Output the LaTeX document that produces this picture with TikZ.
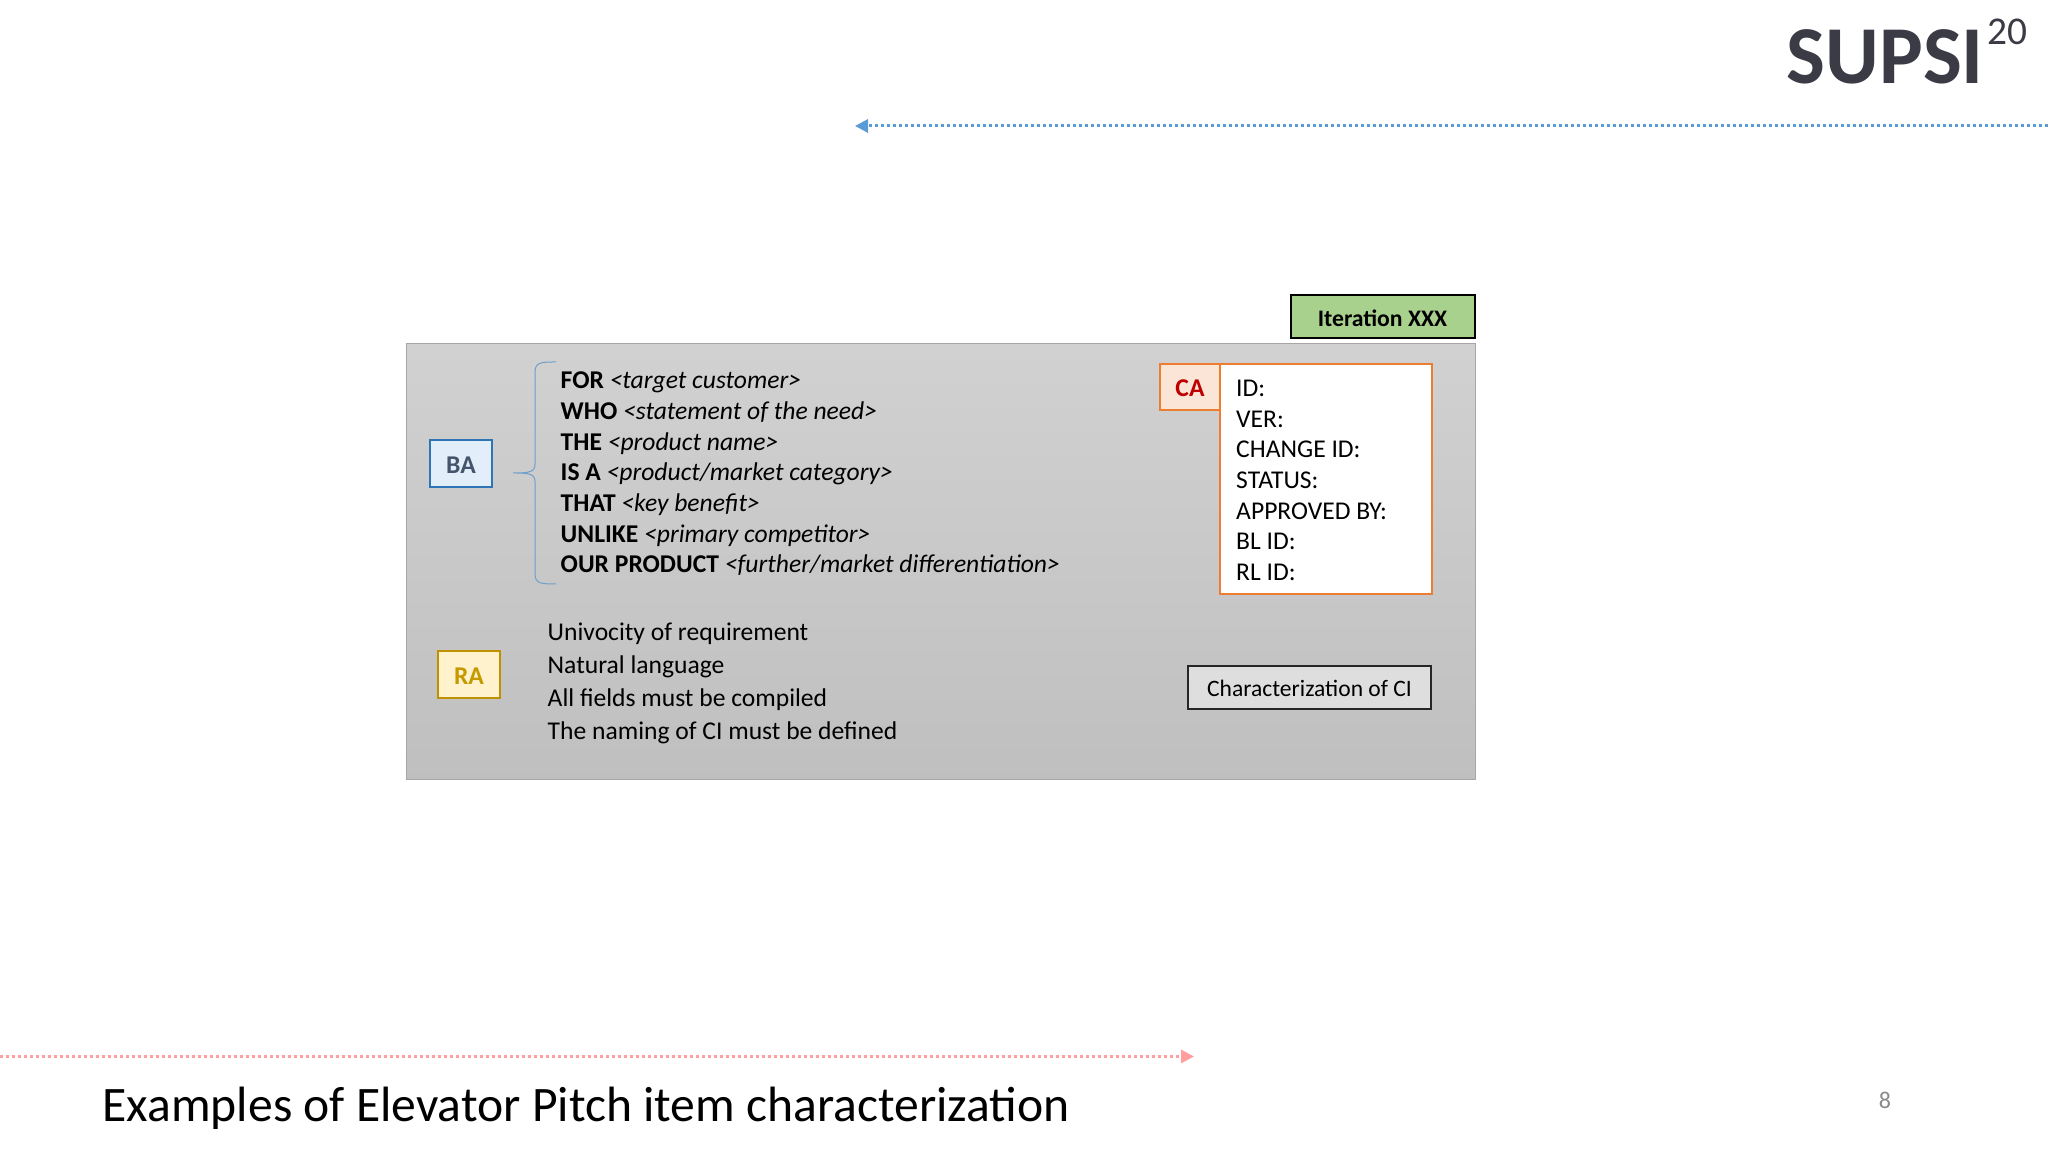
\documentclass[tikz,border=0pt]{standalone}
\usepackage{fontspec}
\setmainfont{Carlito}
\usetikzlibrary{arrows.meta}
\definecolor{panelline}{HTML}{A6A6A6}
\definecolor{bafill}{HTML}{E2EEF9}
\definecolor{baline}{HTML}{2E75B6}
\definecolor{batext}{HTML}{44546A}
\definecolor{rafill}{HTML}{FFF2CC}
\definecolor{raline}{HTML}{BF9000}
\definecolor{ratext}{HTML}{C49A00}
\definecolor{cafill}{HTML}{FBE5D6}
\definecolor{caline}{HTML}{ED7D31}
\definecolor{catext}{HTML}{C00000}
\definecolor{itergreen}{HTML}{A9D18E}
\definecolor{bluearrow}{HTML}{5B9BD5}
\definecolor{pinkarrow}{HTML}{FF9F9F}
\definecolor{logogrey}{HTML}{3B3B45}
\tikzset{
  tag/.style={draw, line width=.02cm, minimum width=.62cm, minimum height=.47cm, inner sep=0pt, text height=.19cm, font=\fontsize{7.28}{8.73}\selectfont\bfseries},
  bodytext/.style={anchor=north west, align=left, inner sep=0pt, font=\fontsize{7.28}{8.735}\selectfont},
  dotline/.style={line width=.03cm, dash pattern=on .03cm off .03cm, -{Triangle[length=.13cm,width=.13cm]}}
}
\begin{document}
\begin{tikzpicture}
  \useasboundingbox (0, 0) rectangle (20.48, 11.52);

  \coordinate (bluestart) at (20.48, 10.26);
  \coordinate (blueend) at (8.55, 10.26);
  \draw[dotline, bluearrow] (bluestart) to (blueend);
  \coordinate (pinkstart) at (0, .955);
  \coordinate (pinkend) at (11.94, .955);
  \draw[dotline, pinkarrow] (pinkstart) to (pinkend);

  \node[anchor=base west, inner sep=0pt, text=logogrey, font=\fontsize{23.4}{24}\selectfont\bfseries] at(17.86, 10.68)(logo){SUPSI};
  \node[anchor=base west, inner sep=0pt, text=logogrey, font=\fontsize{11.2}{12}\selectfont] at(19.87, 11.07)(logoyear){20};

  \draw[draw=panelline, line width=.01cm, top color=black!18, bottom color=black!25] (4.06, 8.08) rectangle (14.755, 3.72);

  \node[draw=black, line width=.02cm, fill=itergreen, minimum width=1.84cm, minimum height=.43cm, inner sep=0pt, text height=.19cm, font=\fontsize{6.74}{8.1}\selectfont\bfseries] at(13.825, 8.35)(iter){Iteration XXX};

  \node[tag, draw=baline, fill=bafill, text=batext] at(4.61, 6.88)(ba){BA};
  \node[tag, draw=raline, fill=rafill, text=ratext] at(4.69, 4.77)(ra){RA};

  % brace
  \draw[baline!70, line width=.01cm] (5.56, 7.90) .. controls (5.42, 7.90) and (5.35, 7.90) .. (5.35, 7.80) to (5.35, 6.88) .. controls (5.35, 6.80) and (5.30, 6.79) .. (5.13, 6.79) .. controls (5.30, 6.79) and (5.35, 6.78) .. (5.35, 6.70) to (5.35, 5.78) .. controls (5.35, 5.68) and (5.42, 5.68) .. (5.56, 5.68);

  \node[bodytext] at(5.60, 7.807)(pitch){\textbf{FOR} \textit{<target customer>}\\
    \textbf{WHO} \textit{<statement of the need>}\\
    \textbf{THE} \textit{<product name>}\\
    \textbf{IS A} \textit{<product/market category>}\\
    \textbf{THAT} \textit{<key benefit>}\\
    \textbf{UNLIKE} \textit{<primary competitor>}\\
    \textbf{OUR PRODUCT} \textit{<further/market differentiation>}};

  \node[bodytext, font=\fontsize{7.28}{9.39}\selectfont] at(5.47, 5.30)(rules){Univocity of requirement\\
    Natural language\\
    All fields must be compiled\\
    The naming of CI must be defined};

  \node[tag, draw=caline, fill=cafill, text=catext, minimum width=.60cm, minimum height=.46cm] at(11.90, 7.65)(ca){CA};
  \node[draw=caline, fill=white, line width=.02cm, minimum width=2.12cm, minimum height=2.30cm, inner sep=0pt] at(13.26, 6.73)(idbox){};
  \node[bodytext] at(12.355, 7.727)(idtext){ID:\\
    VER:\\
    CHANGE ID:\\
    STATUS:\\
    APPROVED BY:\\
    BL ID:\\
    RL ID:};

  \node[draw=black!85, line width=.02cm, fill=black!13, minimum width=2.43cm, minimum height=.43cm, inner sep=0pt, text height=.2cm, text depth=.02cm, font=\fontsize{6.7}{8.2}\selectfont] at(13.095, 4.645)(charbox){Characterization of CI};

  \node[anchor=base west, inner sep=0pt, font=\fontsize{14.12}{17}\selectfont] at(1.02, .30)(title){Examples of Elevator Pitch item characterization};
  \node[inner sep=0pt, text=black!46, font=\fontsize{6.83}{8}\selectfont] at(18.85, .52)(pagenum){8};
\end{tikzpicture}
\end{document}
